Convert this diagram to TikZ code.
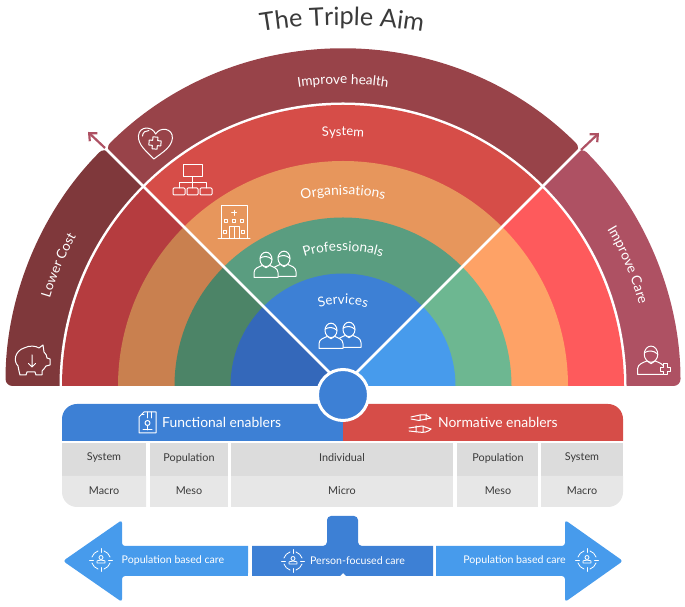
\documentclass[tikz,border=0pt]{standalone}
\usepackage{fontspec}
\setmainfont{Lato}
\usetikzlibrary{decorations.text,arrows.meta,calc}
\definecolor{bandtop}{HTML}{984349}\definecolor{bandleft}{HTML}{7F383B}\definecolor{bandright}{HTML}{AE5163}
\definecolor{redm}{HTML}{D64D48}\definecolor{orangem}{HTML}{E7965C}\definecolor{greenm}{HTML}{5A9D80}\definecolor{bluem}{HTML}{3D80D5}
\definecolor{redl}{HTML}{B53C3F}\definecolor{orangel}{HTML}{C9804F}\definecolor{greenl}{HTML}{4C8467}\definecolor{bluel}{HTML}{3468BA}
\definecolor{redr}{HTML}{FE5A5C}\definecolor{oranger}{HTML}{FEA266}\definecolor{greenr}{HTML}{6DB791}\definecolor{bluer}{HTML}{479BEC}
\definecolor{rowa}{HTML}{DCDCDC}\definecolor{rowb}{HTML}{E7E7E7}\definecolor{ink}{HTML}{3A3A3A}
\newcommand{\ringsec}[4]{\fill[#4] (c) -- ($(c)+(#1:#3)$) arc[start angle=#1,end angle=#2,radius=#3] -- cycle;}
\newcommand{\arclabel}[5]{\path[decorate,decoration={text along path,text align=center,text={|\fontsize{#5}{#5}\selectfont\color{white}|#1}}] ($(c)+(#2:#3)$) arc[start angle=#2,end angle=#4,radius=#3];}
\tikzset{
 iconline/.style={draw=white,line width=1pt,line cap=round,line join=round},
 cellhead/.style={text=ink,font=\fontsize{10.8}{12}\selectfont},
 headtext/.style={text=white,font=\fontsize{13.9}{15}\selectfont},
 arrowtext/.style={text=white,font=\fontsize{10.6}{12}\selectfont},
 pics/personicon/.style={code={
  \draw[iconline,fill=#1] (-10,-7) -- (-10,-3) .. controls (-10,1) and (-5,2) .. (-3,3) -- (0,1) -- (3,3) .. controls (5,2) and (10,1) .. (10,-3) -- (10,-7) -- cycle;
  \draw[iconline,fill=#1] (0,8) circle[x radius=5,y radius=6];
  \draw[iconline] (-5,9) .. controls (-2,11) and (2,11) .. (5,8);
 }},
 pics/targeticon/.style={code={
  \foreach \a in {0,90,180,270}{
   \draw[iconline,line width=0.8pt] (\a+18:9.5) arc[start angle=\a+18,end angle=\a+72,radius=9.5];
   \draw[iconline,line width=0.8pt] (\a:7.5) -- (\a:11.5);}
  \draw[iconline,line width=0.8pt] (0,2.5) circle[radius=2];
  \draw[iconline,line width=0.8pt] (-4,-3) -- (-4,-1) .. controls (-3,0) and (3,0) .. (4,-1) -- (4,-3) -- cycle;
 }}
}
\begin{document}
\begin{tikzpicture}[x=1pt,y=1pt]
\useasboundingbox (0,0) rectangle (685,607);
\coordinate (c) at (343,221);
% outer bands
\fill[bandtop,rounded corners=7pt] (c) -- ($(c)+(135:336.5)$) arc[start angle=135,end angle=45,radius=336.5] -- cycle;
\fill[bandleft,rounded corners=7pt] (c) -- ($(c)+(135:337.5)$) arc[start angle=135,end angle=180,radius=337.5] -- cycle;
\fill[bandright,rounded corners=7pt] (c) -- ($(c)+(45:337.5)$) arc[start angle=45,end angle=0,radius=337.5] -- cycle;
\ringsec{0}{180}{283.5}{white}
% rings
\ringsec{45}{135}{281}{redm}\ringsec{135}{180}{281}{redl}\ringsec{0}{45}{281}{redr}
\ringsec{45}{135}{225}{orangem}\ringsec{135}{180}{225}{orangel}\ringsec{0}{45}{225}{oranger}
\ringsec{45}{135}{168.5}{greenm}\ringsec{135}{180}{168.5}{greenl}\ringsec{0}{45}{168.5}{greenr}
\ringsec{45}{135}{112.5}{bluem}\ringsec{135}{180}{112.5}{bluel}\ringsec{0}{45}{112.5}{bluer}
% dividers
\coordinate (dl) at ($(c)+(135:337)$);\coordinate (dr) at ($(c)+(45:337)$);
\draw[white,line width=2.6pt] (c) -- (dl);
\draw[white,line width=2.6pt] (c) -- (dr);
% pink arrows
\coordinate (al0) at (105,459);\coordinate (al1) at (88,475);
\coordinate (ar0) at (581,457);\coordinate (ar1) at (599,474);
\draw[bandright,line width=2.2pt,-{Straight Barb[length=6pt,width=11pt,line width=2.2pt]}] (al0) -- (al1);
\draw[bandright,line width=2.2pt,-{Straight Barb[length=6pt,width=11pt,line width=2.2pt]}] (ar0) -- (ar1);
% curved labels
\arclabel{Improve health}{150}{302}{30}{13.6}
\arclabel{System}{150}{250}{30}{13}
\arclabel{Organisations}{150}{191}{30}{13.8}
\arclabel{Professionals}{150}{135}{30}{13.6}
\arclabel{Services}{150}{82}{30}{13.4}
\arclabel{Lower Cost}{187}{306}{127}{13.4}
\arclabel{Improve Care}{53}{307}{-7}{13.8}
% title
\coordinate (tc) at (342,102);
\path[decorate,decoration={text along path,text align=center,text={|\fontsize{25.2}{25}\selectfont\color{ink}|The Triple Aim}}] ($(tc)+(105:480)$) arc[start angle=105,end angle=75,radius=480];
% heart
\begin{scope}[shift={(155,464)},rotate=-4]
\draw[iconline] (0,-16) .. controls (-8,-9) and (-17,-3) .. (-17,6) .. controls (-17,16) and (-4,17) .. (0,9) .. controls (4,17) and (17,16) .. (17,6) .. controls (17,-3) and (8,-9) .. (0,-16) -- cycle;
\draw[iconline] (-13,6) .. controls (-13,10) and (-10,12) .. (-7,12);
\draw[iconline] (-2.5,6) -- (2.5,6) -- (2.5,2.5) -- (6,2.5) -- (6,-2.5) -- (2.5,-2.5) -- (2.5,-6) -- (-2.5,-6) -- (-2.5,-2.5) -- (-6,-2.5) -- (-6,2.5) -- (-2.5,2.5) -- cycle;
\end{scope}
% network
\begin{scope}[iconline]
\draw (183,430) rectangle (202,442);
\draw (192.5,430) -- (192.5,419) (179,419) -- (179,424) -- (206,424) -- (206,419);
\draw[rounded corners=1pt] (173,412) rectangle (185,419);
\draw[rounded corners=1pt] (187,412) rectangle (198,419);
\draw[rounded corners=1pt] (200,412) rectangle (212,419);
\end{scope}
% hospital
\begin{scope}[iconline]
\draw (221,369) -- (221,401) -- (247,401) -- (247,369);
\draw (218,368.5) -- (250,368.5);
\draw (229,369) -- (229,380) -- (239,380) -- (239,369);
\draw (234,369) -- (234,380);
\draw (231.5,394) -- (236.5,394) (234,391.5) -- (234,396.5);
\foreach \x in {226,234,242}{\draw (\x-1.5,384) rectangle (\x+1.5,387);}
\foreach \x in {225,243}{\draw (\x-1.5,373) rectangle (\x+1.5,376);}
\end{scope}
% people
\pic[scale=1.2] at (284,339) {personicon=greenm};
\pic[scale=1.2] at (266,338) {personicon=greenm};
\pic[scale=1.2] at (349,268) {personicon=bluem};
\pic[scale=1.2] at (331,267) {personicon=bluem};
\pic[scale=1.35] at (651,242) {personicon=bandright};
\draw[iconline,fill=bandright] (663,243) -- (667,243) -- (667,239.5) -- (670,239.5) -- (670,235.5) -- (667,235.5) -- (667,232) -- (663,232) -- (663,235.5) -- (660,235.5) -- (660,239.5) -- (663,239.5) -- cycle;
% piggy bank
\begin{scope}[shift={(32,247)}]
\draw[iconline] (-13,-11) -- (-14,-6) .. controls (-19,-1) and (-17,9) .. (-8,12) .. controls (-2,15) and (4,14) .. (7,12) -- (11,15) -- (12,8) .. controls (14,6) and (15,4) .. (15,2) -- (18,1) -- (18,-5) -- (14,-6) .. controls (13,-8) and (11,-10) .. (10,-11) -- (10,-15) -- (4,-15) -- (3,-12) -- (-5,-12) -- (-6,-15) -- (-12,-15) -- cycle;
\draw[iconline] (0,5) -- (0,-7) (-3.5,-3.5) -- (0,-7) -- (3.5,-3.5);
\end{scope}
% header
\fill[bluem] (62,166) [rounded corners=15pt] -- (62,203) [sharp corners] -- (343,203) -- (343,166) -- cycle;
\fill[redm] (623,166) [rounded corners=15pt] -- (623,203) [sharp corners] -- (343,203) -- (343,166) -- cycle;
\node[headtext,anchor=west,inner sep=0] (fe) at (162,184.5) {Functional enablers};
\node[headtext,anchor=west,inner sep=0] (ne) at (438,184.5) {Normative enablers};
% header icons
\begin{scope}[iconline]
\draw (142,174) -- (156,174) -- (156,195) -- (144,195) -- (139,190) -- (139,174) -- cycle;
\draw (147,195) -- (147,189) (151,195) -- (151,189) (142,192) -- (144,192);
\draw (147.5,184) circle[radius=2.5];
\draw (143,177) -- (152,177) (147.5,177) -- (147.5,181.5);
\end{scope}
\begin{scope}[iconline]
\draw (411,190) -- (420,192) .. controls (426,193) and (428,191) .. (431,189);
\draw (411,188) -- (419,186.5) -- (431,189) (420,192) -- (420,186.5) (426,193) -- (426,187);
\draw (409,176) -- (418,175) .. controls (424,174) and (428,175) .. (431,178);
\draw (409,179) -- (422,181) -- (431,178) (416,175) -- (416,181) (423,175) -- (423,181);
\end{scope}
% table
\fill[rowa] (62,131) rectangle (146,164);
\fill[rowb] (62,131) [rounded corners=15pt] -- (62,100) [sharp corners] -- (146,100) -- (146,131) -- cycle;
\fill[rowa] (150,131) rectangle (228,164);\fill[rowb] (150,100) rectangle (228,131);
\fill[rowa] (231,131) rectangle (453,164);\fill[rowb] (231,100) rectangle (453,131);
\fill[rowa] (457,131) rectangle (538,164);\fill[rowb] (457,100) rectangle (538,131);
\fill[rowa] (541,131) rectangle (623,164);
\fill[rowb] (623,131) [rounded corners=15pt] -- (623,100) [sharp corners] -- (541,100) -- (541,131) -- cycle;
\node[cellhead] (t1) at (104,149) {System};
\node[cellhead] (t2) at (189,149) {Population};
\node[cellhead] (t3) at (342,149) {Individual};
\node[cellhead] (t4) at (498,149) {Population};
\node[cellhead] (t5) at (582,149) {System};
\node[cellhead] (b1) at (104,116) {Macro};
\node[cellhead] (b2) at (189,116) {Meso};
\node[cellhead] (b3) at (342,116) {Micro};
\node[cellhead] (b4) at (498,116) {Meso};
\node[cellhead] (b5) at (582,116) {Macro};
% centre circle
\fill[bluem,draw=white,line width=3pt] (343,212) circle[radius=25.5];
% bottom arrows
\fill[bluer,rounded corners=3pt] (248,61) -- (122,61) -- (122,87) -- (63,46) -- (122,5) -- (122,31) -- (248,31) [sharp corners] -- cycle;
\fill[bluer] (248,61) rectangle (240,31);
\fill[bluer,rounded corners=3pt] (436,61) -- (565,61) -- (565,87) -- (623,46) -- (565,5) -- (565,31) -- (436,31) [sharp corners] -- cycle;
\fill[bluer] (436,61) rectangle (444,31);
\fill[bluem] (252,61) [rounded corners=4pt] -- (327,61) -- (327,91) -- (358,91) -- (358,61) [sharp corners] -- (433,61) -- (433,31) -- (346,31) -- (343,34) -- (340,31) -- (252,31) -- cycle;
\node[arrowtext,anchor=west,inner sep=0] (p1) at (121.5,46.5) {Population based care};
\node[arrowtext,anchor=center,inner sep=0] (p2) at (357.5,46.5) {Person-focused care};
\node[arrowtext,anchor=east,inner sep=0] (p3) at (566,46.5) {Population based care};
\pic at (101,47) {targeticon};
\pic at (293,46) {targeticon};
\pic at (587,47) {targeticon};
\end{tikzpicture}
\end{document}
